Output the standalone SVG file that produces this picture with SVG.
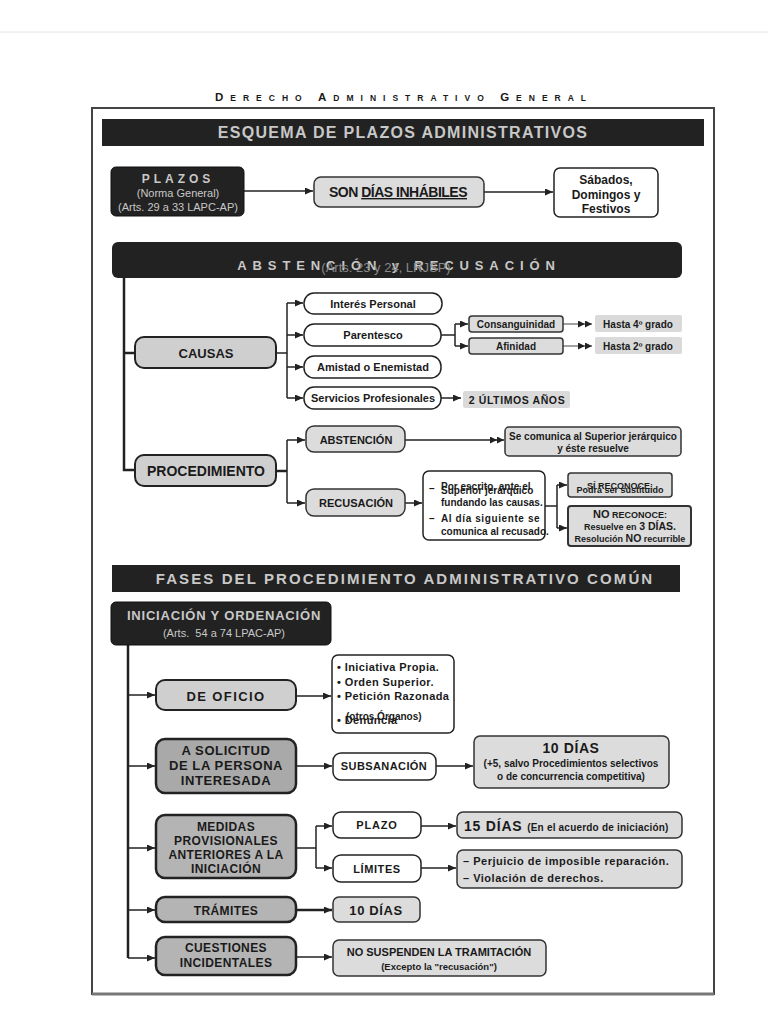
<svg xmlns="http://www.w3.org/2000/svg" width="768" height="1024" viewBox="0 0 768 1024">
<defs>
<marker id="arr" markerUnits="userSpaceOnUse" markerWidth="8" markerHeight="7" refX="8" refY="3.5" orient="auto"><path d="M0,0 L8,3.5 L0,7 z" fill="#222"/></marker>
<marker id="arr2" markerUnits="userSpaceOnUse" markerWidth="14" markerHeight="7" refX="14" refY="3.5" orient="auto"><path d="M0,0 L7,3.5 L0,7 z M7,0 L14,3.5 L7,7 z" fill="#222"/></marker>
</defs>
<style>
text{font-family:"Liberation Sans",Arial,sans-serif;font-weight:bold;fill:#1a1a1a}
.c{text-anchor:middle}
.lt{fill:#c8c8c8}
.dark{fill:#222;stroke:#111;stroke-width:1}
.g1{fill:#cfcfcf;stroke:#222;stroke-width:2}
.g2{fill:#b4b4b4;stroke:#222;stroke-width:2.5}
.g3{fill:#dcdcdc;stroke:#333;stroke-width:1.5}
.w{fill:#fff;stroke:#222;stroke-width:1.5}
.gb{fill:#dadada;stroke:none}
.ln{fill:none;stroke:#222;stroke-width:1.5}
.lnb{fill:none;stroke:#222;stroke-width:2.5}
</style>
<rect width="768" height="1024" fill="#fff"/>
<line x1="0" y1="32" x2="768" y2="32" stroke="#e6e6ee" stroke-width="1"/>
<rect x="92" y="108" width="622" height="886" fill="#fff" stroke="#444" stroke-width="2"/>
<line x1="92" y1="994" x2="714" y2="994" stroke="#777" stroke-width="3"/>

<g id="header">
<text x="404" y="101" class="c" letter-spacing="7" font-size="8.5"><tspan font-size="11.5">D</tspan>ERECHO <tspan font-size="11.5">A</tspan>DMINISTRATIVO <tspan font-size="11.5">G</tspan>ENERAL</text>
</g>

<g id="title1">
<rect x="102" y="119" width="602" height="27" fill="#222"/>
<text x="403" y="138" class="c lt" font-size="16" letter-spacing="1.3">ESQUEMA DE PLAZOS ADMINISTRATIVOS</text>
</g>

<g id="connectors">
<line class="ln" x1="244" y1="191" x2="313" y2="191" marker-end="url(#arr)"/>
<line class="ln" x1="484" y1="192" x2="553" y2="192" marker-end="url(#arr)"/>
<polyline class="lnb" points="124,278 124,470 135,470"/>
<line class="lnb" x1="124" y1="353" x2="135" y2="353"/>
<line class="ln" x1="276" y1="353" x2="287" y2="353"/>
<line class="ln" x1="287" y1="303" x2="287" y2="398"/>
<line class="ln" x1="287" y1="303" x2="303" y2="303" marker-end="url(#arr)"/>
<line class="ln" x1="287" y1="335" x2="303" y2="335" marker-end="url(#arr)"/>
<line class="ln" x1="287" y1="367" x2="303" y2="367" marker-end="url(#arr)"/>
<line class="ln" x1="287" y1="398" x2="303" y2="398" marker-end="url(#arr)"/>
<line class="ln" x1="441" y1="335" x2="455" y2="335"/>
<line class="ln" x1="455" y1="324" x2="455" y2="346"/>
<line class="ln" x1="455" y1="324" x2="468" y2="324" marker-end="url(#arr)"/>
<line class="ln" x1="455" y1="346" x2="468" y2="346" marker-end="url(#arr)"/>
<line x1="563" y1="324" x2="592" y2="324" stroke="#444" stroke-width="1" marker-end="url(#arr2)"/>
<line x1="563" y1="346" x2="592" y2="346" stroke="#444" stroke-width="1" marker-end="url(#arr2)"/>
<line class="ln" x1="441" y1="398" x2="461" y2="398" marker-end="url(#arr)"/>
<line class="lnb" x1="276" y1="471" x2="287" y2="471"/>
<line class="ln" x1="287" y1="440" x2="287" y2="503"/>
<line class="ln" x1="287" y1="440" x2="305" y2="440" marker-end="url(#arr)"/>
<line class="ln" x1="287" y1="503" x2="305" y2="503" marker-end="url(#arr)"/>
<line class="ln" x1="405" y1="440" x2="504" y2="440" marker-end="url(#arr2)"/>
<line class="ln" x1="405" y1="503" x2="422" y2="503" marker-end="url(#arr)"/>
<line class="ln" x1="545" y1="506" x2="557" y2="506"/>
<line class="ln" x1="557" y1="485" x2="557" y2="528"/>
<line class="ln" x1="557" y1="485" x2="567" y2="485" marker-end="url(#arr)"/>
<line class="ln" x1="557" y1="528" x2="567" y2="528" marker-end="url(#arr)"/>
<line class="lnb" x1="128" y1="645" x2="128" y2="958"/>
<line class="ln" x1="128" y1="695" x2="155" y2="695" marker-end="url(#arr)"/>
<line class="ln" x1="128" y1="766" x2="155" y2="766" marker-end="url(#arr)"/>
<line class="ln" x1="128" y1="848" x2="155" y2="848" marker-end="url(#arr)"/>
<line class="ln" x1="128" y1="910" x2="155" y2="910" marker-end="url(#arr)"/>
<line class="ln" x1="128" y1="958" x2="155" y2="958" marker-end="url(#arr)"/>
<line class="ln" x1="296" y1="696" x2="331" y2="696" marker-end="url(#arr)"/>
<line class="ln" x1="296" y1="766" x2="332" y2="766" marker-end="url(#arr)"/>
<line class="ln" x1="436" y1="766" x2="473" y2="766" marker-end="url(#arr)"/>
<line class="ln" x1="296" y1="848" x2="316" y2="848"/>
<line class="ln" x1="316" y1="826" x2="316" y2="868"/>
<line class="ln" x1="316" y1="826" x2="332" y2="826" marker-end="url(#arr)"/>
<line class="ln" x1="316" y1="868" x2="332" y2="868" marker-end="url(#arr)"/>
<line class="ln" x1="421" y1="826" x2="456" y2="826" marker-end="url(#arr)"/>
<line class="ln" x1="421" y1="868" x2="456" y2="868" marker-end="url(#arr)"/>
<line class="lnb" x1="296" y1="910" x2="332" y2="910" marker-end="url(#arr)"/>
<line class="ln" x1="296" y1="957" x2="332" y2="957" marker-end="url(#arr)"/>
</g>

<g id="plazos">
<rect x="111" y="167" width="133" height="49" rx="5" class="dark"/>
<text x="178" y="183" class="c lt" font-size="12" letter-spacing="4">PLAZOS</text>
<text x="178" y="197" class="c lt" font-size="11" style="font-weight:normal">(Norma General)</text>
<text x="178" y="211" class="c lt" font-size="11" style="font-weight:normal">(Arts. 29 a 33 LAPC-AP)</text>
</g>
<g id="inhabiles">
<rect x="314" y="177" width="170" height="30" rx="7" class="g3"/>
<text x="398" y="197" class="c" font-size="14" letter-spacing="-0.5">SON <tspan text-decoration="underline">DÍAS INHÁBILES</tspan></text>
</g>
<g id="sabados">
<rect x="554" y="168" width="104" height="49" rx="6" class="w"/>
<text x="606" y="184" class="c" font-size="12">Sábados,</text>
<text x="606" y="199" class="c" font-size="12">Domingos y</text>
<text x="606" y="213" class="c" font-size="12">Festivos</text>
</g>

<g id="title2">
<rect x="112" y="242" width="570" height="36" rx="6" fill="#222"/>
<text x="399" y="270" class="c lt" font-size="13" letter-spacing="5.9">ABSTENCIÓN y RECUSACIÓN</text>
<text x="386" y="272" class="c" font-size="13" fill="#8a8a8a" style="fill:#8a8a8a;font-weight:normal">(Arts. 23 y 24, LRJSP)</text>
</g>

<g id="causas">
<rect x="135" y="337" width="141" height="31" rx="9" class="g1"/>
<text x="206" y="358" class="c" font-size="13">CAUSAS</text>
</g>
<g id="interes">
<rect x="304" y="293" width="138" height="21" rx="10" class="w"/>
<text x="373" y="308" class="c" font-size="11">Interés Personal</text>
</g>
<g id="parentesco">
<rect x="304" y="324" width="137" height="22" rx="10" class="w"/>
<text x="373" y="339" class="c" font-size="11">Parentesco</text>
</g>
<g id="amistad">
<rect x="304" y="356" width="137" height="22" rx="10" class="w"/>
<text x="373" y="371" class="c" font-size="11">Amistad o Enemistad</text>
</g>
<g id="servicios">
<rect x="304" y="387" width="137" height="22" rx="10" class="w"/>
<text x="373" y="402" class="c" font-size="11">Servicios Profesionales</text>
</g>
<g id="consanguinidad">
<rect x="469" y="316" width="94" height="16" rx="3" class="g3"/>
<text x="516" y="328" class="c" font-size="10">Consanguinidad</text>
</g>
<g id="afinidad">
<rect x="469" y="338" width="94" height="16" rx="3" class="g3"/>
<text x="516" y="350" class="c" font-size="10">Afinidad</text>
</g>
<g id="hasta4">
<rect x="595" y="315" width="87" height="17" rx="2" class="gb"/>
<text x="638" y="328" class="c" font-size="10">Hasta 4º grado</text>
</g>
<g id="hasta2">
<rect x="595" y="337" width="87" height="17" rx="2" class="gb"/>
<text x="638" y="350" class="c" font-size="10">Hasta 2º grado</text>
</g>
<g id="ultimos">
<rect x="463" y="391" width="107" height="17" rx="2" class="gb"/>
<text x="517" y="404" class="c" font-size="10.5" letter-spacing="0.6">2 ÚLTIMOS AÑOS</text>
</g>

<g id="procedimiento">
<rect x="135" y="455" width="141" height="31" rx="9" class="g1"/>
<text x="206" y="476" class="c" font-size="14">PROCEDIMIENTO</text>
</g>
<g id="abstencion">
<rect x="306" y="426" width="99" height="26" rx="8" class="g3"/>
<text x="356" y="444" class="c" font-size="11">ABSTENCIÓN</text>
</g>
<g id="recusacion">
<rect x="306" y="489" width="99" height="27" rx="8" class="g3"/>
<text x="356" y="507" class="c" font-size="11">RECUSACIÓN</text>
</g>
<g id="comunica">
<rect x="505" y="427" width="176" height="29" rx="4" class="g3"/>
<text x="593" y="440" class="c" font-size="10">Se comunica al Superior jerárquico</text>
<text x="593" y="452" class="c" font-size="10">y éste resuelve</text>
</g>
<g id="escrito">
<rect x="423" y="471" width="122" height="69" rx="6" class="w"/>
<text x="429" y="492" font-size="10">–</text>
<text x="441" y="490" font-size="10">Por escrito, ante el</text>
<text x="441" y="494" font-size="10">Superior jerárquico</text>
<text x="441" y="506" font-size="10">fundando las causas.</text>
<text x="429" y="522" font-size="10">–</text>
<text x="441" y="522" font-size="10" letter-spacing="0.6">Al día siguiente se</text>
<text x="441" y="535" font-size="10">comunica al recusado.</text>
</g>
<g id="sireconoce">
<rect x="568" y="473" width="104" height="24" rx="3" class="g3"/>
<text x="620" y="489" class="c" font-size="9">SÍ RECONOCE:</text>
<text x="620" y="493" class="c" font-size="9">Podrá ser sustituido</text>
</g>
<g id="noreconoce">
<rect x="568" y="506" width="123" height="40" rx="3" class="g3" style="stroke-width:2"/>
<text x="630" y="518" class="c" font-size="9"><tspan font-size="11">NO</tspan> RECONOCE:</text>
<text x="630" y="530" class="c" font-size="9">Resuelve en <tspan font-size="10.5">3 DÍAS.</tspan></text>
<text x="630" y="542" class="c" font-size="9">Resolución <tspan font-size="10.5">NO</tspan> recurrible</text>
</g>

<g id="title3">
<rect x="112" y="565" width="568" height="27" fill="#222"/>
<text x="405" y="584" class="c lt" font-size="15" letter-spacing="2.1">FASES DEL PROCEDIMIENTO ADMINISTRATIVO COMÚN</text>
</g>
<g id="iniciacion">
<rect x="111" y="602" width="220" height="43" rx="5" class="dark"/>
<text x="224" y="620" class="c lt" font-size="13" letter-spacing="0.8">INICIACIÓN Y ORDENACIÓN</text>
<text x="224" y="637" class="c lt" font-size="11" style="font-weight:normal" xml:space="preserve">(Arts.  54 a 74 LPAC-AP)</text>
</g>

<g id="deoficio">
<rect x="156" y="680" width="140" height="30" rx="9" class="g1"/>
<text x="226" y="701" class="c" font-size="13" letter-spacing="1.4">DE OFICIO</text>
</g>
<g id="lista">
<rect x="332" y="655" width="122" height="78" rx="6" class="w"/>
<text x="337" y="671" font-size="11" letter-spacing="0.4">• Iniciativa Propia.</text>
<text x="337" y="686" font-size="11" letter-spacing="0.4">• Orden Superior.</text>
<text x="337" y="700" font-size="11" letter-spacing="0.4">• Petición Razonada</text>
<text x="346" y="720" font-size="10">(otros Órganos)</text>
<text x="337" y="724" font-size="11" letter-spacing="0.4">• Denuncia</text>
</g>
<g id="solicitud">
<rect x="156" y="739" width="140" height="54" rx="9" class="g2" style="fill:#a9a9a9"/>
<text x="226" y="755" class="c" font-size="13" letter-spacing="0.6">A SOLICITUD</text>
<text x="226" y="770" class="c" font-size="13" letter-spacing="0.6">DE LA PERSONA</text>
<text x="226" y="785" class="c" font-size="13" letter-spacing="0.6">INTERESADA</text>
</g>
<g id="subsanacion">
<rect x="333" y="753" width="103" height="27" rx="8" class="w"/>
<text x="384" y="770" class="c" font-size="11" letter-spacing="0.4">SUBSANACIÓN</text>
</g>
<g id="diez">
<rect x="474" y="736" width="195" height="52" rx="6" class="g3"/>
<text x="571" y="753" class="c" font-size="14" letter-spacing="0.6">10 DÍAS</text>
<text x="571" y="767" class="c" font-size="10">(+5, salvo Procedimientos selectivos</text>
<text x="571" y="780" class="c" font-size="10">o de concurrencia competitiva)</text>
</g>
<g id="medidas">
<rect x="156" y="815" width="140" height="63" rx="9" class="g2"/>
<text x="226" y="831" class="c" font-size="12" letter-spacing="0.4">MEDIDAS</text>
<text x="226" y="845" class="c" font-size="12" letter-spacing="0.4">PROVISIONALES</text>
<text x="226" y="859" class="c" font-size="12" letter-spacing="0.4">ANTERIORES A LA</text>
<text x="226" y="873" class="c" font-size="12" letter-spacing="0.4">INICIACIÓN</text>
</g>
<g id="plazo">
<rect x="333" y="812" width="88" height="26" rx="8" class="w"/>
<text x="377" y="829" class="c" font-size="11" letter-spacing="0.8">PLAZO</text>
</g>
<g id="limites">
<rect x="333" y="855" width="88" height="27" rx="8" class="w"/>
<text x="377" y="873" class="c" font-size="11" letter-spacing="0.6">LÍMITES</text>
</g>
<g id="quince">
<rect x="457" y="812" width="225" height="26" rx="6" class="g3"/>
<text x="464" y="831" font-size="14" letter-spacing="0.8">15 DÍAS <tspan font-size="10" letter-spacing="0.2">(En el acuerdo de iniciación)</tspan></text>
</g>
<g id="perjuicio">
<rect x="457" y="850" width="225" height="38" rx="6" class="g3"/>
<text x="463" y="865" font-size="11" letter-spacing="0.5">– Perjuicio de imposible reparación.</text>
<text x="463" y="882" font-size="11" letter-spacing="0.5">– Violación de derechos.</text>
</g>
<g id="tramites">
<rect x="156" y="897" width="140" height="25" rx="9" class="g2"/>
<text x="226" y="915" class="c" font-size="12" letter-spacing="0.4">TRÁMITES</text>
</g>
<g id="diez2">
<rect x="333" y="897" width="87" height="25" rx="6" class="g3"/>
<text x="376" y="915" class="c" font-size="13" letter-spacing="0.6">10 DÍAS</text>
</g>
<g id="cuestiones">
<rect x="156" y="937" width="140" height="38" rx="9" class="g2"/>
<text x="226" y="952" class="c" font-size="12" letter-spacing="0.4">CUESTIONES</text>
<text x="226" y="967" class="c" font-size="12" letter-spacing="0.4">INCIDENTALES</text>
</g>
<g id="nosuspenden">
<rect x="333" y="940" width="213" height="36" rx="6" class="g3"/>
<text x="439" y="956" class="c" font-size="11">NO SUSPENDEN LA TRAMITACIÓN</text>
<text x="439" y="970" class="c" font-size="9.5">(Excepto la "recusación")</text>
</g>
</svg>
